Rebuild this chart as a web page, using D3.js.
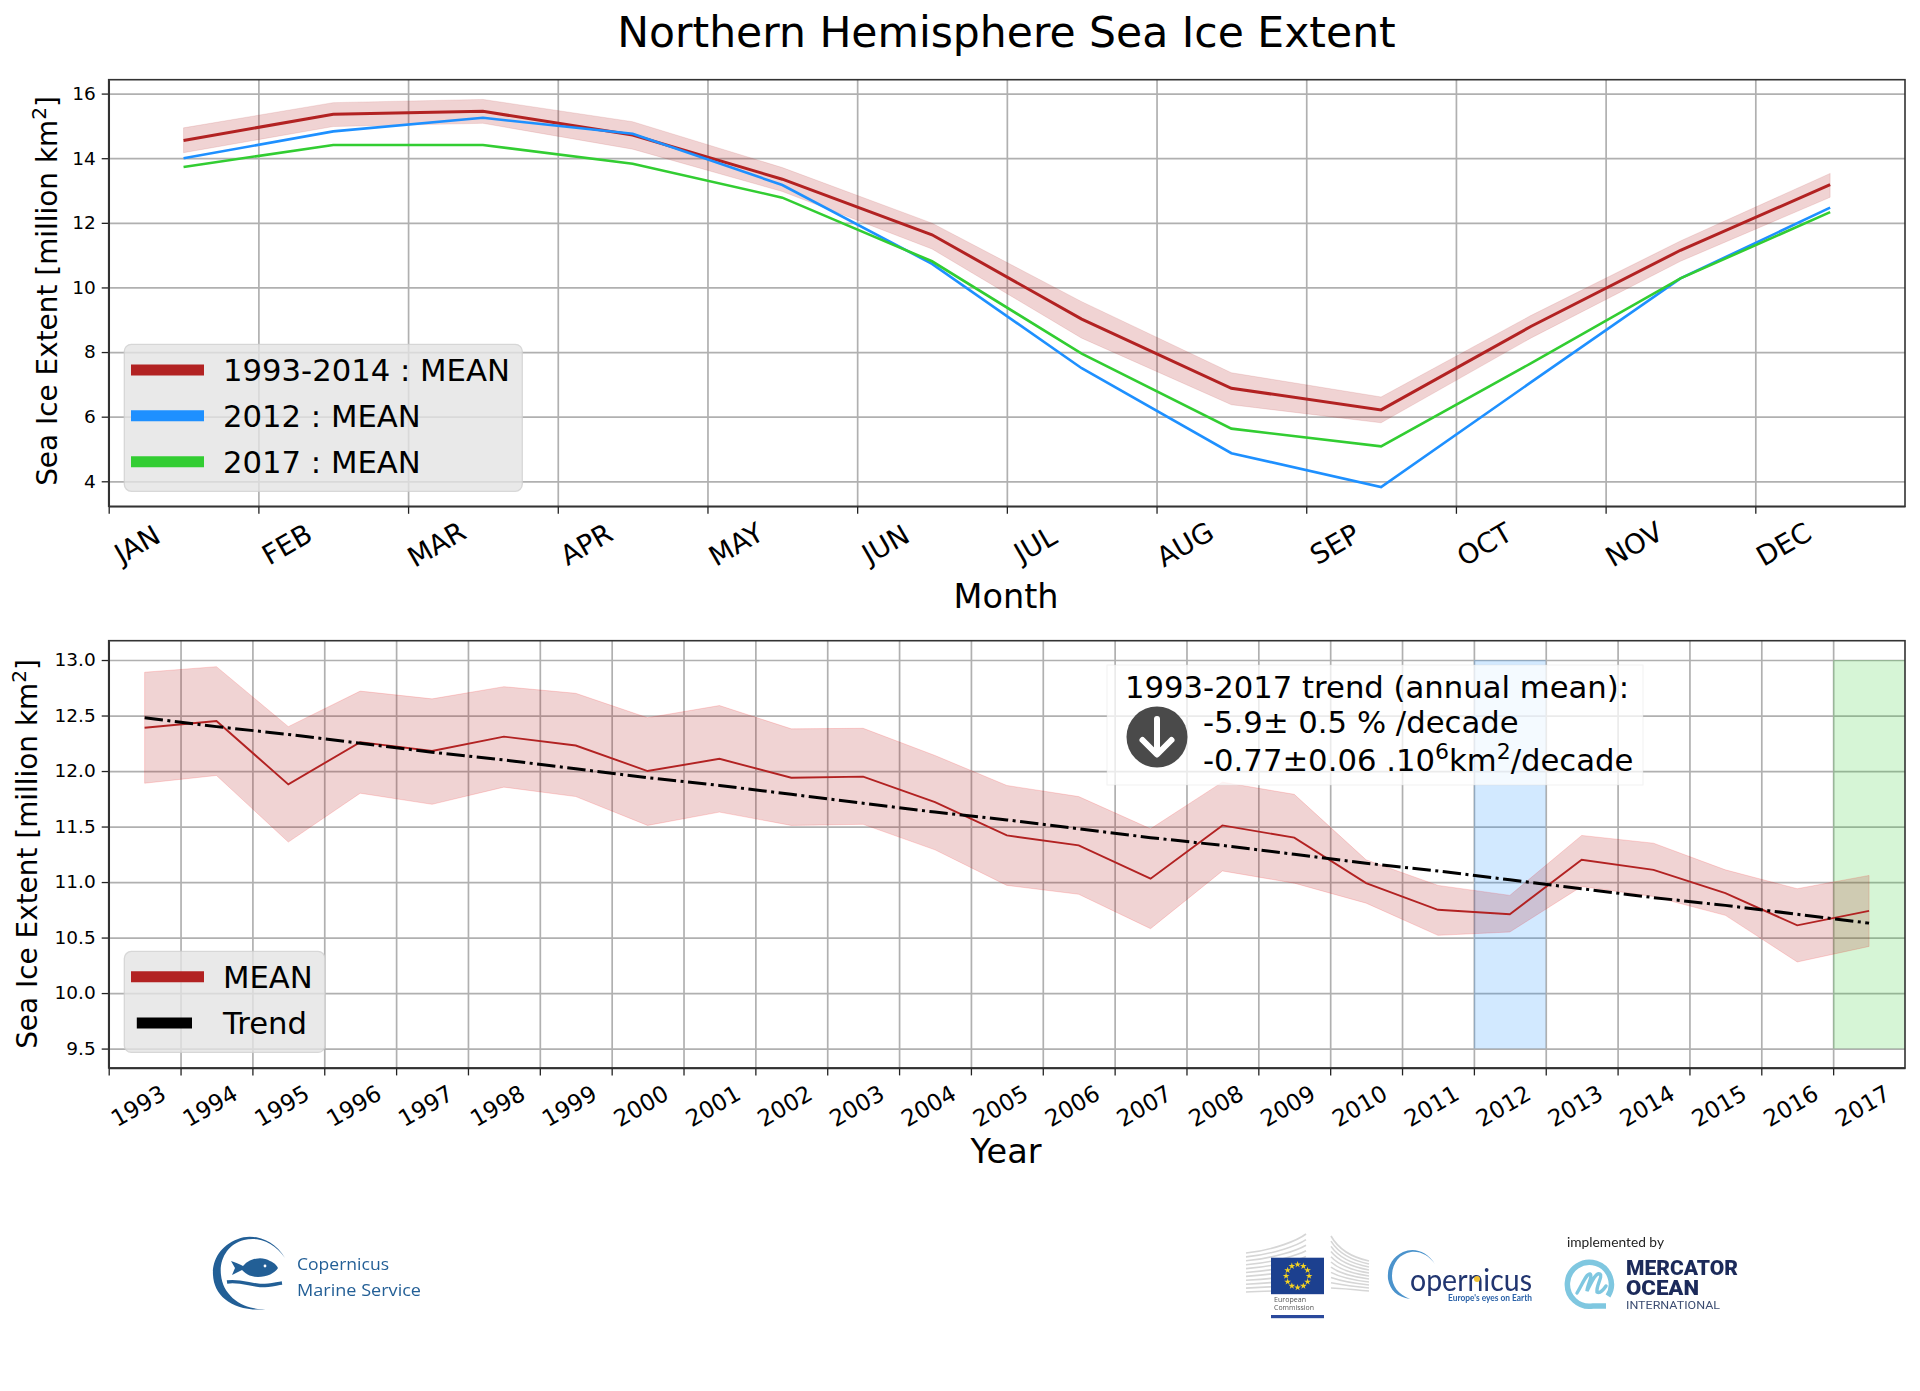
<!DOCTYPE html>
<html>
<head>
<meta charset="utf-8">
<title>Northern Hemisphere Sea Ice Extent</title>
<script src="https://cdn.jsdelivr.net/npm/d3@7"></script>
<style>
  html, body { margin: 0; padding: 0; background: #fff; }
  svg { display: block; }
  text { font-family: "DejaVu Sans", sans-serif; fill: #000; }
  .axis path.domain { stroke: #333; stroke-width: 1.6; }
  .axis line { stroke: #222; stroke-width: 1.3; }
  .grid line { stroke: #b0b0b0; stroke-width: 1.7; }
  .grid path { display: none; }
</style>
</head>
<body>
<svg id="figure" width="1920" height="1391" xmlns="http://www.w3.org/2000/svg">
  <defs><filter id="soft" x="-5%" y="-5%" width="110%" height="110%"><feGaussianBlur stdDeviation="0.55"/></filter></defs>
</svg>
<script>
// Monthly panel
const months = ["JAN","FEB","MAR","APR","MAY","JUN","JUL","AUG","SEP","OCT","NOV","DEC"];
const climMean  = [14.55,15.36,15.45,14.72,13.35,11.63,9.02,6.88,6.21,8.79,11.15,13.18];
const climUpper = [14.94,15.72,15.82,15.13,13.71,11.99,9.56,7.36,6.61,9.13,11.44,13.53];
const climLower = [14.17,14.98,15.08,14.28,12.97,11.19,8.43,6.37,5.81,8.43,10.81,12.79];
const mean2012  = [14.00,14.83,15.25,14.76,13.17,10.73,7.50,4.87,3.82,7.06,10.28,12.47];
const mean2017  = [13.73,14.41,14.41,13.83,12.78,10.81,7.95,5.63,5.08,7.65,10.28,12.33];

// Annual panel
const years = ["1993","1994","1995","1996","1997","1998","1999","2000","2001","2002","2003","2004","2005",
               "2006","2007","2008","2009","2010","2011","2012","2013","2014","2015","2016","2017"];
const annualMean  = [12.39,12.45,11.88,12.26,12.18,12.31,12.23,12.00,12.11,11.94,11.95,11.72,11.42,
                     11.33,11.03,11.51,11.40,10.99,10.75,10.71,11.20,11.11,10.90,10.61,10.74];
const annualUpper = [12.89,12.94,12.40,12.72,12.65,12.76,12.70,12.48,12.59,12.38,12.385,12.14,11.87,
                     11.77,11.48,11.90,11.79,11.20,10.97,10.88,11.42,11.35,11.11,10.94,11.06];
const annualLower = [11.89,11.96,11.36,11.80,11.70,11.855,11.77,11.51,11.63,11.51,11.52,11.29,10.97,
                     10.89,10.58,11.10,10.99,10.81,10.52,10.55,10.96,10.87,10.70,10.28,10.42];
const annualTrend = [12.48,12.40,12.33,12.25,12.17,12.10,12.02,11.94,11.87,11.79,11.71,11.63,11.56,
                     11.48,11.40,11.33,11.25,11.17,11.10,11.02,10.94,10.86,10.79,10.71,10.63];

const monthTicks = [4,6,8,10,12,14,16];
const annualTicks = [9.5,10,10.5,11,11.5,12,12.5,13];
const highlightYears = [{ year: "2012", color: "#1e90ff" }, { year: "2017", color: "#32cd32" }];

const RED = "#b22222", BLUE = "#1e90ff", GREEN = "#32cd32";
const svg = d3.select("#figure");
const left = 108.7, right = 1905;

svg.append("text").attr("x", 1006.5).attr("y", 47).attr("text-anchor", "middle")
  .attr("font-size", 42.5).text("Northern Hemisphere Sea Ice Extent");

// Shared panel scaffolding: grid, spines, ticks and labels.
function panel(o) {
  const g = svg.append("g");
  const x = d3.scaleLinear().domain([0, o.labels.length]).range([left, right]);
  const y = d3.scaleLinear().domain(o.yDomain).range([o.bottom, o.top]);
  const positions = o.labels.map((_, i) => i);

  g.append("g").attr("class", "grid").attr("transform", `translate(0,${o.bottom})`)
    .call(d3.axisBottom(x).tickValues(positions).tickSize(o.top - o.bottom).tickFormat(""));
  g.append("g").attr("class", "grid").attr("transform", `translate(${left},0)`)
    .call(d3.axisLeft(y).tickValues(o.yTicks).tickSize(left - right).tickFormat(""));

  const marks = g.append("g");

  const xAxis = g.append("g").attr("class", "axis").attr("transform", `translate(0,${o.bottom})`)
    .call(d3.axisBottom(x).tickValues(positions).tickSize(7.5).tickSizeOuter(0)
      .tickFormat(i => o.labels[i]));
  xAxis.selectAll("text")
    .attr("y", 0).attr("dy", "0.35em")
    .attr("transform", `translate(${o.labelShift},${o.labelDrop}) rotate(-30)`)
    .attr("text-anchor", "middle")
    .attr("font-size", o.xFont).attr("font-family", '"DejaVu Sans"');

  const yAxis = g.append("g").attr("class", "axis").attr("transform", `translate(${left},0)`)
    .call(d3.axisLeft(y).tickValues(o.yTicks).tickSize(7).tickPadding(6).tickSizeOuter(0)
      .tickFormat(o.yFormat));
  yAxis.selectAll("text").attr("font-size", 18.5).attr("font-family", '"DejaVu Sans"');

  g.append("rect").attr("x", left).attr("y", o.top)
    .attr("width", right - left).attr("height", o.bottom - o.top)
    .attr("fill", "none").attr("stroke", "#333").attr("stroke-width", 1.6);

  const yl = g.append("text").attr("font-size", 27.9).attr("text-anchor", "middle")
    .attr("transform", `translate(${o.yLabelX},${o.yLabelY}) rotate(-90)`);
  yl.append("tspan").text("Sea Ice Extent [million km");
  yl.append("tspan").attr("font-size", 20).attr("dy", -11).text("2");
  yl.append("tspan").attr("dy", 11).text("]");

  g.append("text").attr("x", 1006).attr("y", o.xTitleY).attr("text-anchor", "middle")
    .attr("font-size", 33.5).text(o.xTitle);

  return { marks, x, y, g };
}

function legendBox(g, x0, y0, w, h) {
  g.append("rect").attr("x", x0).attr("y", y0).attr("width", w).attr("height", h)
    .attr("rx", 7).attr("fill", "#e4e4e4").attr("fill-opacity", 0.8)
    .attr("stroke", "#cfcfcf").attr("stroke-opacity", 0.8).attr("stroke-width", 1.3);
}

// ---- Top panel: seasonal cycle ----
const top1 = panel({
  labels: months, yDomain: [3.226, 16.43], yTicks: monthTicks, top: 79.7, bottom: 506.3,
  yFormat: d3.format("d"), xFont: 27.5, labelShift: 28, labelDrop: 38, yLabelX: 57, yLabelY: 291,
  xTitle: "Month", xTitleY: 608
});
{
  const { marks, x, y, g } = top1;
  const px = (_, i) => x(i + 0.5);
  marks.append("path").datum(climMean)
    .attr("d", d3.area().x(px).y0((_, i) => y(climLower[i])).y1((_, i) => y(climUpper[i])))
    .attr("fill", RED).attr("fill-opacity", 0.2).attr("stroke", RED).attr("stroke-opacity", 0.12);
  const line = d3.line().x(px).y(d => y(d));
  [[climMean, RED, 3], [mean2012, BLUE, 2.6], [mean2017, GREEN, 2.6]].forEach(([s, c, w]) => {
    marks.append("path").datum(s).attr("d", line).attr("fill", "none")
      .attr("stroke", c).attr("stroke-width", w);
  });
  legendBox(g, 124.3, 344.3, 398, 147);
  [["1993-2014 : MEAN", RED, 370], ["2012 : MEAN", BLUE, 415.7], ["2017 : MEAN", GREEN, 461.7]]
    .forEach(([t, c, yy]) => {
      g.append("line").attr("x1", 131).attr("x2", 204).attr("y1", yy).attr("y2", yy)
        .attr("stroke", c).attr("stroke-width", 11);
      g.append("text").attr("x", 223).attr("y", yy + 11).attr("font-size", 30.7).text(t);
    });
}

// ---- Bottom panel: annual means and trend ----
const bottom1 = panel({
  labels: years, yDomain: [9.326, 13.174], yTicks: annualTicks, top: 640.7, bottom: 1067.9,
  yFormat: d3.format(".1f"), xFont: 23, labelShift: 29, labelDrop: 38, yLabelX: 37, yLabelY: 854,
  xTitle: "Year", xTitleY: 1163
});
{
  const { marks, x, y, g } = bottom1;
  const px = (_, i) => x(i + 0.5);
  highlightYears.forEach(h => {
    const i = years.indexOf(h.year);
    marks.append("rect").attr("x", x(i)).attr("width", x(i + 1) - x(i))
      .attr("y", y(13)).attr("height", y(9.5) - y(13))
      .attr("fill", h.color).attr("fill-opacity", 0.2);
  });
  marks.append("path").datum(annualMean)
    .attr("d", d3.area().x(px).y0((_, i) => y(annualLower[i])).y1((_, i) => y(annualUpper[i])))
    .attr("fill", RED).attr("fill-opacity", 0.2).attr("stroke", "#ff0000").attr("stroke-opacity", 0.15);
  const line = d3.line().x(px).y(d => y(d));
  marks.append("path").datum(annualMean).attr("d", line).attr("fill", "none")
    .attr("stroke", RED).attr("stroke-width", 1.9);
  marks.append("path").datum(annualTrend).attr("d", line).attr("fill", "none")
    .attr("stroke", "#000").attr("stroke-width", 3).attr("stroke-dasharray", "18.4 4.5 3 4.5");

  legendBox(g, 124.3, 951.4, 200.7, 101);
  g.append("line").attr("x1", 131).attr("x2", 204).attr("y1", 976.8).attr("y2", 976.8)
    .attr("stroke", RED).attr("stroke-width", 11);
  g.append("text").attr("x", 223).attr("y", 987.5).attr("font-size", 30.7).text("MEAN");
  g.append("line").attr("x1", 136.8).attr("x2", 192).attr("y1", 1022.9).attr("y2", 1022.9)
    .attr("stroke", "#000").attr("stroke-width", 11);
  g.append("text").attr("x", 223).attr("y", 1033.5).attr("font-size", 30.7).text("Trend");

  // Trend annotation
  g.append("rect").attr("x", 1107).attr("y", 665).attr("width", 536).attr("height", 120)
    .attr("fill", "#fff").attr("fill-opacity", 0.75)
    .attr("stroke", "#ddd").attr("stroke-opacity", 0.4);
  g.append("text").attr("x", 1125).attr("y", 697.5).attr("font-size", 30.7)
    .text("1993-2017 trend (annual mean):");
  g.append("text").attr("x", 1203).attr("y", 733).attr("font-size", 30.7)
    .text("-5.9\u00b1 0.5 % /decade");
  const l3 = g.append("text").attr("x", 1203).attr("y", 771).attr("font-size", 30.7);
  l3.append("tspan").text("-0.77\u00b10.06 .10");
  l3.append("tspan").attr("font-size", 22).attr("dy", -12).text("6");
  l3.append("tspan").attr("dy", 12).text("km");
  l3.append("tspan").attr("font-size", 22).attr("dy", -12).text("2");
  l3.append("tspan").attr("dy", 12).text("/decade");

  g.append("circle").attr("cx", 1157).attr("cy", 737).attr("r", 30.5).attr("fill", "#4a4a4a");
  g.append("path").attr("d", "M1157,719 V754 M1142.5,740 L1157,754.5 L1171.5,740")
    .attr("fill", "none").attr("stroke", "#fff").attr("stroke-width", 6)
    .attr("stroke-linecap", "round").attr("stroke-linejoin", "round");
}

// ---- Footer logos ----
const logos = svg.append("g").attr("class", "logos").attr("filter", "url(#soft)");

// Shrinks or stretches a logo wordmark to its fixed width.
function word(g, x, y, size, color, family, width, txt, weight) {
  return g.append("text").attr("x", x).attr("y", y).attr("font-size", size)
    .style("fill", color).style("font-family", family).style("font-weight", weight || 400)
    .attr("textLength", width).attr("lengthAdjust", "spacingAndGlyphs").text(txt);
}

// Copernicus Marine Service
{
  const c = "#245f96";
  const m = logos.append("g");
  m.append("path").attr("fill", c)
    .attr("d", "M285,1258 C274,1239 252,1233 238,1239 C219,1246 212,1262 213,1275 C214,1296 233,1313 268,1309 C243,1311 223,1296 221,1275 C219,1259 228,1244 244,1240 C259,1236 275,1243 285,1258 Z");
  m.append("path").attr("fill", c)
    .attr("d", "M231,1261 C236,1263 240,1264 243,1266 C250,1258 262,1256 270,1261 C275,1263 277,1266 278,1268 C275,1273 267,1277 258,1277 C252,1277 247,1275 242,1270 L232,1275 L235,1268 Z");
  m.append("circle").attr("cx", 265).attr("cy", 1266).attr("r", 1.4).attr("fill", "#fff");
  m.append("path").attr("fill", "none").attr("stroke", c).attr("stroke-width", 3.4)
    .attr("d", "M227,1282 C240,1280 250,1285 260,1285.5 C268,1286 275,1284 282,1283");
  word(m, 297, 1270, 17, c, '"Open Sans"', 92, "Copernicus");
  word(m, 297, 1295.5, 17, c, '"Open Sans"', 124, "Marine Service");
}

// European Commission
{
  const e = logos.append("g");
  d3.range(11).forEach(i => {
    e.append("path").attr("fill", "none").attr("stroke", "#d6d6d6").attr("stroke-width", 1.6)
      .attr("d", `M1246,${1253 + i * 3.9} C1275,${1250 + i * 4.1} 1298,${1240 + i * 5} 1306,${1234 + i * 5.6}`);
    e.append("path").attr("fill", "none").attr("stroke", "#d6d6d6").attr("stroke-width", 1.6)
      .attr("d", `M1331,${1236 + i * 5.2} C1340,${1252 + i * 3.6} 1355,${1258 + i * 3.2} 1369,${1261 + i * 3}`);
  });
  e.append("rect").attr("x", 1271).attr("y", 1257.7).attr("width", 53).attr("height", 36.5).attr("fill", "#1f3f8f");
  const star = d3.symbol().type(d3.symbolStar).size(14);
  d3.range(12).forEach(i => {
    const a = i / 12 * 2 * Math.PI;
    e.append("path").attr("d", star).attr("fill", "#f4d320")
      .attr("transform", `translate(${1297.6 + 11.5 * Math.cos(a)},${1276 + 11.5 * Math.sin(a)})`);
  });
  word(e, 1274, 1302, 7, "#555", '"Open Sans"', 32, "European");
  word(e, 1274, 1310, 7, "#555", '"Open Sans"', 40, "Commission");
  e.append("rect").attr("x", 1271).attr("y", 1315).attr("width", 53).attr("height", 3.2).attr("fill", "#2a4a9c");
}

// Copernicus
{
  const k = logos.append("g");
  k.append("path").attr("fill", "#4b93cc")
    .attr("d", "M1435,1264 C1427,1251 1414,1247 1403,1252 C1391,1258 1387,1268 1388,1279 C1390,1290 1397,1297 1410,1299 C1398,1294 1392,1286 1392,1276 C1392,1264 1399,1254 1411,1252 C1421,1251 1429,1256 1435,1264 Z");
  word(k, 1410, 1291, 31, "#20356f", "Lato", 122, "opernicus");
  k.append("circle").attr("cx", 1477).attr("cy", 1279).attr("r", 3).attr("fill", "#f2c230");
  word(k, 1448, 1301, 10, "#2b62a8", "Lato", 84, "Europe's eyes on Earth", 700);
}

// Mercator Ocean International
{
  const t = logos.append("g");
  word(t, 1567, 1246.5, 13.5, "#222", "Lato", 97, "implemented by");
  t.append("path").attr("fill", "none").attr("stroke", "#7fc7e0").attr("stroke-width", 5.5)
    .attr("d", "M1608,1296 A22,22 0 1 0 1593,1306 L1606,1306");
  t.append("path").attr("fill", "none").attr("stroke", "#7fc7e0").attr("stroke-width", 3.4)
    .attr("stroke-linecap", "round")
    .attr("d", "M1577,1293 C1583,1283 1586,1274 1590,1274 C1593,1276 1587,1286 1587,1291 C1592,1281 1596,1272 1600,1274 C1603,1276 1596,1286 1597,1292 C1600,1294 1604,1289 1606,1286");
  const navy = "#1b2b5a";
  word(t, 1626, 1275, 20, navy, "Roboto", 112, "MERCATOR", 900);
  word(t, 1626, 1294.5, 20, navy, "Roboto", 73, "OCEAN", 900);
  word(t, 1626, 1309, 11, "#3d4d72", "Roboto", 94, "INTERNATIONAL");
}
</script>
</body>
</html>
